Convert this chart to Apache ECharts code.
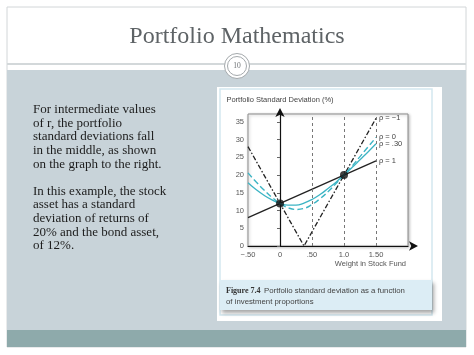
<!DOCTYPE html>
<html>
<head>
<meta charset="utf-8">
<script src="https://cdn.jsdelivr.net/npm/echarts@6/dist/echarts.min.js"></script>
<style>
  html, body { margin: 0; padding: 0; background: #fff; }
  #chart { width: 474px; height: 355px; }
</style>
</head>
<body>
<div id="chart"></div>
<script>
// weight in stock fund, and portfolio SD (%)
const weights = [-0.5, -0.375, -0.25, -0.125, 0, 0.125, 0.25, 0.375, 0.5, 0.625, 0.75, 0.875, 1.0, 1.125, 1.25, 1.375, 1.5];
const rhoZero = [20.6, 18.1, 15.8, 13.7, 12.0, 10.8, 10.3, 10.6, 11.7, 13.3, 15.3, 17.6, 20.0, 22.5, 25.2, 27.9, 30.6];
const rhoThirty = [17.8, 15.9, 14.3, 13.0, 12.0, 11.5, 11.5, 12.1, 13.1, 14.5, 16.2, 18.0, 20.0, 22.1, 24.3, 26.5, 28.8];
const rhoNegWeights = [-0.5, 0, 0.375, 1.0, 1.5];
const rhoNeg = [28, 12, 0, 20, 36];
const rhoOneWeights = [-0.5, 1.5];
const rhoOne = [8, 24];
const assetWeights = [0, 1];
const assetSd = [12, 20];
const guideWeights = [0.5, 1.0, 1.5];
const xTicks = [-0.5, 0, 0.5, 1.0, 1.5];
const xTickLabels = ['\u2212.50', '0', '.50', '1.0', '1.50'];
const yTicks = [0, 5, 10, 15, 20, 25, 30, 35];

const teal = '#3cb4c4';
const sans = 'Liberation Sans, Arial, sans-serif';
const serif = 'Liberation Serif, Times New Roman, serif';

const pairs = (xs, ys) => xs.map((x, i) => [x, ys[i]]);

const endLabel = (text) => ({
  show: true,
  formatter: text,
  color: '#444',
  fontSize: 7.5,
  fontFamily: sans,
  distance: 3
});

const bodyText = [
  'For intermediate values',
  'of r, the portfolio',
  'standard deviations fall',
  'in the middle, as shown',
  'on the graph to the right.',
  '',
  'In this example, the stock',
  'asset has a standard',
  'deviation of returns of',
  '20% and the bond asset,',
  'of 12%.'
].join('\n');

const chart = echarts.init(document.getElementById('chart'));

chart.setOption({
  animation: false,
  backgroundColor: '#fff',
  graphic: [
    { type: 'rect', z: -10, shape: { x: 7, y: 7, width: 459, height: 340 }, style: { fill: '#fff', stroke: '#d2d6d8', lineWidth: 1 } },
    { type: 'rect', z: -9, shape: { x: 7, y: 70, width: 459, height: 260 }, style: { fill: '#c8d3d9' } },
    { type: 'rect', z: -9, shape: { x: 7, y: 330, width: 459, height: 17 }, style: { fill: '#8eaaab' } },
    { type: 'line', z: -9, shape: { x1: 7, y1: 64, x2: 466, y2: 64 }, style: { stroke: '#d3d8da', lineWidth: 2 } },
    { type: 'circle', z: -8, shape: { cx: 237, cy: 66, r: 12.5 }, style: { fill: '#fff', stroke: '#a4a9ac', lineWidth: 1 } },
    { type: 'circle', z: -8, shape: { cx: 237, cy: 66, r: 9.5 }, style: { fill: '#fff', stroke: '#a4a9ac', lineWidth: 1 } },
    { type: 'text', z: -7, x: 237, y: 66, style: { text: '10', fill: '#6a6f72', font: '7.5px ' + serif, textAlign: 'center', textVerticalAlign: 'middle' } },
    { type: 'text', z: -7, x: 237, y: 37, style: { text: 'Portfolio Mathematics', fill: '#5e6366', font: '24px ' + serif, textAlign: 'center', textVerticalAlign: 'middle' } },
    { type: 'text', z: -7, x: 33, y: 103, style: { text: bodyText, fill: '#1c1c1c', font: '13px ' + serif, lineHeight: 13.6 } },
    { type: 'rect', z: -8, shape: { x: 217, y: 87, width: 225, height: 234 }, style: { fill: '#fff' } },
    { type: 'rect', z: -7, shape: { x: 220, y: 89, width: 212, height: 226 }, style: { fill: 'none', stroke: '#d3e8f0', lineWidth: 1.5 } },
    { type: 'rect', z: -6, shape: { x: 220, y: 280, width: 212, height: 30 }, style: { fill: '#dcedf5', shadowBlur: 4, shadowOffsetX: 2, shadowOffsetY: 3, shadowColor: 'rgba(0,0,0,0.35)' } },
    { type: 'text', z: -5, x: 226, y: 291, style: { text: 'Figure 7.4', fill: '#333', font: 'bold 8px ' + serif, textVerticalAlign: 'middle' } },
    { type: 'text', z: -5, x: 264, y: 291, style: { text: 'Portfolio standard deviation as a function', fill: '#444', font: '7.8px ' + sans, textVerticalAlign: 'middle' } },
    { type: 'text', z: -5, x: 226, y: 302, style: { text: 'of investment proportions', fill: '#444', font: '7.8px ' + sans, textVerticalAlign: 'middle' } }
  ],
  grid: {
    left: 248, top: 114, width: 160, height: 132,
    show: true, backgroundColor: '#fff', borderColor: '#8c8c8c', borderWidth: 1,
    shadowBlur: 3, shadowOffsetX: 1, shadowOffsetY: 1, shadowColor: 'rgba(0,0,0,0.25)'
  },
  xAxis: {
    type: 'value', min: -0.5, max: 2.0, interval: 0.5,
    name: 'Weight in Stock Fund', nameLocation: 'end', nameGap: -2,
    nameTextStyle: { align: 'right', verticalAlign: 'top', padding: [14, 0, 0, 0], color: '#555', fontSize: 7.5, fontFamily: sans },
    axisLine: { onZero: true, symbol: ['none', 'arrow'], symbolSize: [7, 9], symbolOffset: [0, 10], lineStyle: { color: '#111', width: 1.2 } },
    axisTick: { show: false },
    splitLine: { show: false },
    axisLabel: {
      customValues: xTicks, margin: 5, color: '#555', fontSize: 7.5, fontFamily: sans,
      formatter: (v) => xTickLabels[xTicks.indexOf(v)]
    }
  },
  yAxis: {
    type: 'value', min: 0, max: 37.2,
    name: 'Portfolio Standard Deviation (%)', nameLocation: 'end', nameGap: 10,
    nameTextStyle: { color: '#444', fontSize: 7.5, fontFamily: sans },
    axisLine: { onZero: true, symbol: ['none', 'arrow'], symbolSize: [7, 9], symbolOffset: [0, 6], lineStyle: { color: '#111', width: 1.2 } },
    axisTick: { show: true, customValues: yTicks, length: 3, lineStyle: { color: '#666' } },
    splitLine: { show: false },
    axisLabel: { customValues: yTicks, margin: 4, color: '#555', fontSize: 7.5, fontFamily: sans }
  },
  series: [
    {
      name: 'rho = 1', type: 'line', data: pairs(rhoOneWeights, rhoOne), showSymbol: false,
      lineStyle: { color: '#222', width: 1.3 }, endLabel: endLabel('\u03c1 = 1'),
      markLine: {
        silent: true, symbol: 'none', label: { show: false },
        lineStyle: { color: '#777', type: [3, 3], width: 1 },
        data: guideWeights.map((w) => ({ xAxis: w }))
      }
    },
    {
      name: 'rho = -1', type: 'line', data: pairs(rhoNegWeights, rhoNeg), showSymbol: false,
      lineStyle: { color: '#222', width: 1.3, type: [5, 2, 1.5, 2] }, endLabel: endLabel('\u03c1 = \u22121')
    },
    {
      name: 'rho = 0', type: 'line', data: pairs(weights, rhoZero), showSymbol: false, smooth: true,
      lineStyle: { color: teal, width: 1.4, type: [6, 3] }, endLabel: endLabel('\u03c1 = 0')
    },
    {
      name: 'rho = .30', type: 'line', data: pairs(weights, rhoThirty), showSymbol: false, smooth: true,
      lineStyle: { color: teal, width: 1.3 }, endLabel: endLabel('\u03c1 = .30')
    },
    {
      name: 'assets', type: 'scatter', data: pairs(assetWeights, assetSd), symbolSize: 8, z: 5,
      itemStyle: { color: '#111' }
    }
  ]
});
</script>
</body>
</html>
